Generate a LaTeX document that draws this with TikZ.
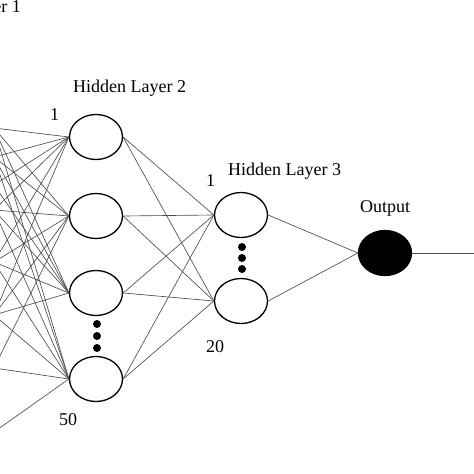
\documentclass[tikz,border=0pt]{standalone}
\usepackage{fontspec}
\setmainfont{Liberation Serif}
\usetikzlibrary{shapes.geometric}
\begin{document}
\begin{tikzpicture}[x=1pt,y=-1pt,
  neuron/.style={draw=black, line width=1.3pt, ellipse, minimum width=53pt, minimum height=45pt, inner sep=0pt},
  outneuron/.style={neuron, fill=black},
  conn/.style={draw=black!70, line width=0.65pt},
  lbl/.style={font=\fontsize{18}{20}\selectfont, inner sep=0pt, anchor=base west},
  dotc/.style={fill=black, circle, minimum size=8pt, inner sep=0pt}]
\useasboundingbox (0,0) rectangle (474,474);
\clip (0,0) rectangle (474,474);
% layer 1 (off canvas) source points
\foreach \i/\y in {1/128,2/157,3/185,4/210,5/262,6/315,7/368,8/432}
  \coordinate (s\i) at (-6,\y);
% layer 2
\node[neuron] (a1) at (96,137) {};
\node[neuron] (a2) at (96,216) {};
\node[neuron] (a3) at (96,293) {};
\node[neuron] (a4) at (96,379) {};
\node[dotc] (ad1) at (97,324) {};
\node[dotc] (ad2) at (97,336) {};
\node[dotc] (ad3) at (97,348) {};
% layer 3
\node[neuron] (b1) at (241,215) {};
\node[neuron] (b2) at (241,301) {};
\node[dotc] (bd1) at (242,247) {};
\node[dotc] (bd2) at (242,258) {};
\node[dotc] (bd3) at (242,269) {};
% output
\node[outneuron] (o) at (385,253) {};
\coordinate (oend) at (480,253);
% connections layer1 -> layer2
\foreach \i in {1,2,4,5,6}
  \foreach \j in {1,2,3,4}
    \draw[conn] (s\i) -- (a\j.west);
\draw[conn] (s3) -- (a1.west);
\draw[conn] (s3) -- (a3.west);
\draw[conn] (s7) -- (a4.west);
\draw[conn] (s7) -- (a2.west);
\draw[conn] (s8) -- (a4.west);
% layer2 -> layer3
\foreach \j in {1,2,3,4}
  \foreach \k in {1,2}
    \draw[conn] (a\j.east) -- (b\k.west);
% layer3 -> output
\draw[conn] (b1.east) -- (o.west);
\draw[conn] (b2.east) -- (o.west);
\draw[conn] (o.east) -- (oend);
% labels
\node[lbl, anchor=base east] (h1) at (21,12) {Hidden Layer 1};
\node[lbl] (h2) at (73,92) {Hidden Layer 2};
\node[lbl] (n21) at (50,120) {1};
\node[lbl] (n250) at (59,425) {50};
\node[lbl] (h3) at (228,175) {Hidden Layer 3};
\node[lbl] (n31) at (206,186) {1};
\node[lbl] (n320) at (206,352) {20};
\node[lbl] (ho) at (360,212) {Output};
\end{tikzpicture}
\end{document}
